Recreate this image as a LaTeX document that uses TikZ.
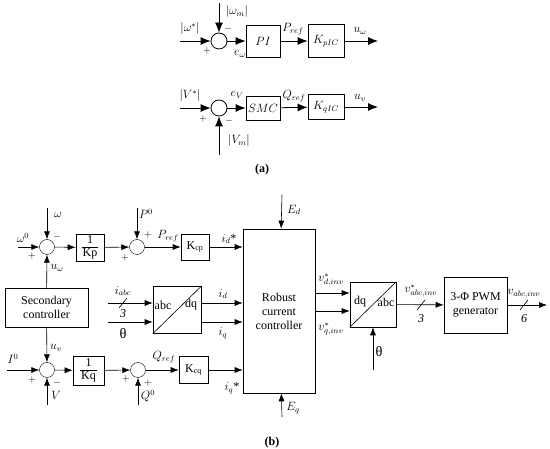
\documentclass[tikz,border=0pt]{standalone}
\usepackage{fontspec}
\setmainfont{Liberation Serif}
\usetikzlibrary{positioning}
\usetikzlibrary{arrows.meta,shapes}
\usetikzlibrary{calc}
\tikzstyle{block}=[rectangle,draw,thick,inner sep=1pt,font=\large]
\tikzstyle{sumnode}=[circle,draw,minimum size=15pt,inner sep=0pt]
\tikzstyle{bigsum}=[circle,draw,thick,minimum size=16pt,inner sep=0pt]
\tikzstyle{arr} = [draw,semithick,-{Latex[length=8pt,width=6pt]}]
\tikzstyle{bigarr} = [draw,thick,-{Latex[length=10pt,width=8pt]}]
\tikzstyle{lbl} = [font=\large,inner sep=0pt]
\tikzstyle{sgn} = [font=\normalsize,inner sep=0pt]
\tikzstyle{slash} = [draw,semithick]
\newcommand{\gainfrac}[1]{\setlength{\tabcolsep}{1pt}\renewcommand{\arraystretch}{0.9}\begin{tabular}{c}1\\\hline #1\end{tabular}}

\begin{document}
\begin{tikzpicture}[x=1pt,y=-1pt]
    \useasboundingbox (0,0) rectangle (550,449);

    % (a) outer loops
    \node[bigsum] (sa) at (219,41) {};
    \node[block,minimum width=34pt,minimum height=32pt] (pi) at (263,41) {$PI$};
    \node[block,minimum width=36pt,minimum height=33pt] (kpic) at (326,41) {$K_{pIC}$};
    \coordinate (wref) at (180,41);
    \coordinate (wm) at (219,3);
    \coordinate (uwout) at (378,41);

    \node[bigsum] (sb) at (219,108) {};
    \node[block,minimum width=34pt,minimum height=24pt] (smc) at (263,108) {$SMC$};
    \node[block,minimum width=36pt,minimum height=25pt] (kqic) at (326,107) {$K_{qIC}$};
    \coordinate (vref) at (180,108);
    \coordinate (vm) at (219,155);
    \coordinate (uvout) at (378,107);

    \foreach \source/\dest in {wref/sa, wm/sa, sa/pi, pi/kpic, kpic/uwout, vref/sb, vm/sb, sb/smc, smc/kqic, kqic/uvout}
        \path[bigarr] (\source) -- (\dest);

    \foreach \pos/\text in {{(190,29)/$|\omega^{*}|$}, {(237,12)/$|\omega_m|$}, {(240,54)/$e_\omega$},
        {(293,29)/$P_{ref}$}, {(360,31)/$u_\omega$}, {(190,96)/$|V^{*}|$}, {(237,95)/$e_V$},
        {(239,141)/$|V_m|$}, {(294,96)/$Q_{ref}$}, {(360,98)/$u_v$}}
        \node[lbl] at \pos {\text};
    \foreach \pos/\text in {{(207,51)/$+$}, {(228,29)/$-$}, {(203,119)/$+$}, {(229,121)/$-$}}
        \node[sgn] at \pos {\text};
    \node[font=\large\bfseries] (capa) at (262,170) {(a)};

    % (b) droop and current control
    \node[sumnode] (s1) at (47,247) {};
    \node[block,semithick,minimum width=28pt,minimum height=27pt,inner sep=0pt] (kp) at (90,247.5) {\gainfrac{Kp}};
    \node[sumnode] (s2) at (137,247) {};
    \node[block,semithick,minimum width=28pt,minimum height=26pt] (kcp) at (195,247) {K$_{\mathrm{cp}}$};
    \node[block,semithick,minimum width=72pt,minimum height=164pt,align=center] (rcc) at (279,311) {Robust\\current\\controller};
    \node[block,semithick,minimum width=83pt,minimum height=39pt,align=center] (sec) at (46.5,307.5) {Secondary\\controller};
    \node[sumnode] (s3) at (47,370) {};
    \node[block,semithick,minimum width=31pt,minimum height=29pt,inner sep=0pt] (kq) at (88.5,370.5) {\gainfrac{Kq}};
    \node[sumnode] (s4) at (138,370) {};
    \node[block,semithick,minimum width=29pt,minimum height=27pt] (kcq) at (193.5,370) {K$_{\mathrm{cq}}$};
    \node[block,semithick,minimum width=48pt,minimum height=47pt] (abcdq) at (177,310) {};
    \node[block,semithick,minimum width=46pt,minimum height=45pt] (dqabc) at (373,304.5) {};
    \node[block,semithick,minimum width=63pt,minimum height=56pt,align=center] (pwm) at (475.5,305) {3-Φ PWM\\generator};

    \draw[semithick] (abcdq.south west) -- (abcdq.north east);
    \draw[semithick] (dqabc.south west) -- (dqabc.north east);
    \node[inner sep=0pt,font=\large] at (163,305) {abc};
    \node[inner sep=0pt,font=\large] at (191,305) {dq};
    \node[inner sep=0pt,font=\large] at (360,302) {dq};
    \node[inner sep=0pt,font=\large] at (386,302) {abc};

    \coordinate (w) at (47,208);
    \coordinate (w0) at (18,247);
    \coordinate (p0) at (137,208);
    \coordinate (ed) at (282,195);
    \coordinate (eq) at (282,417);
    \coordinate (i0) at (7,370);
    \coordinate (vin) at (47,405);
    \coordinate (q0) at (138,405);
    \coordinate (iabc) at (108,303);
    \coordinate (th1) at (108,322);
    \coordinate (vd) at (315,293);
    \coordinate (vq) at (315,311);
    \coordinate (th2) at (373,370);
    \coordinate (vout) at (547,305);

    \foreach \source/\dest in {w/s1, w0/s1, sec/s1, s1/kp, kp/s2, p0/s2, s2/kcp, ed/rcc, eq/rcc,
        sec/s3, i0/s3, vin/s3, s3/kq, kq/s4, q0/s4, s4/kcq, th2/dqabc, dqabc/pwm, pwm/vout}
        \path[arr] (\source) -- (\dest);
    \path[arr] (kcp) -- (kcp -| rcc.west);
    \path[arr] (kcq) -- (kcq -| rcc.west);
    \path[arr] (iabc) -- (iabc -| abcdq.west);
    \path[arr] (th1) -- (th1 -| abcdq.west);
    \path[arr] (iabc -| abcdq.east) -- (iabc -| rcc.west);
    \path[arr] (th1 -| abcdq.east) -- (th1 -| rcc.west);
    \path[arr] (vd) -- (vd -| dqabc.west);
    \path[arr] (vq) -- (vq -| dqabc.west);

    % bus width marks
    \foreach \x/\y in {123/303, 421/305, 524/305}
        \path[slash] (\x-4,\y+5) -- (\x+4,\y-5);

    \foreach \pos/\text in {{(58,215)/$\omega$}, {(23,238)/$\omega^0$}, {(57,268)/$u_\omega$},
        {(146,214)/$P^0$}, {(168,236)/$P_{ref}$}, {(229,239)/$i_d$*}, {(294,210)/$E_d$},
        {(56,348)/$u_v$}, {(13,359)/$I^0$}, {(56,395)/$V$}, {(148,396)/$Q^0$},
        {(164,357)/$Q_{ref}$}, {(232,388)/$i_q$*}, {(293,408)/$E_q$},
        {(123,291)/$i_{abc}$}, {(123,314)/\textit{3}}, {(223,294)/$i_d$}, {(223,333)/$i_q$},
        {(331,280)/$v^{*}_{d,inv}$}, {(331,329)/$v^{*}_{q,inv}$}, {(421,291)/$v^{*}_{abc,inv}$},
        {(421,319)/\textit{3}}, {(524,294)/$v_{abc,inv}$}, {(524,319)/\textit{6}}}
        \node[lbl] at \pos {\text};
    \foreach \pos/\text in {{(123,334)/θ}, {(379,352)/θ}}
        \node[inner sep=0pt,font=\Large] at \pos {\text};
    \foreach \pos/\text in {{(57,237)/$-$}, {(32,256)/$+$}, {(148,235)/$+$}, {(125,258)/$+$},
        {(32,380)/$+$}, {(57,383)/$-$}, {(126,379)/$+$}, {(148,383)/$+$}}
        \node[sgn] at \pos {\text};
    \node[font=\large\bfseries] (capb) at (272,443) {(b)};

\end{tikzpicture}
\end{document}
